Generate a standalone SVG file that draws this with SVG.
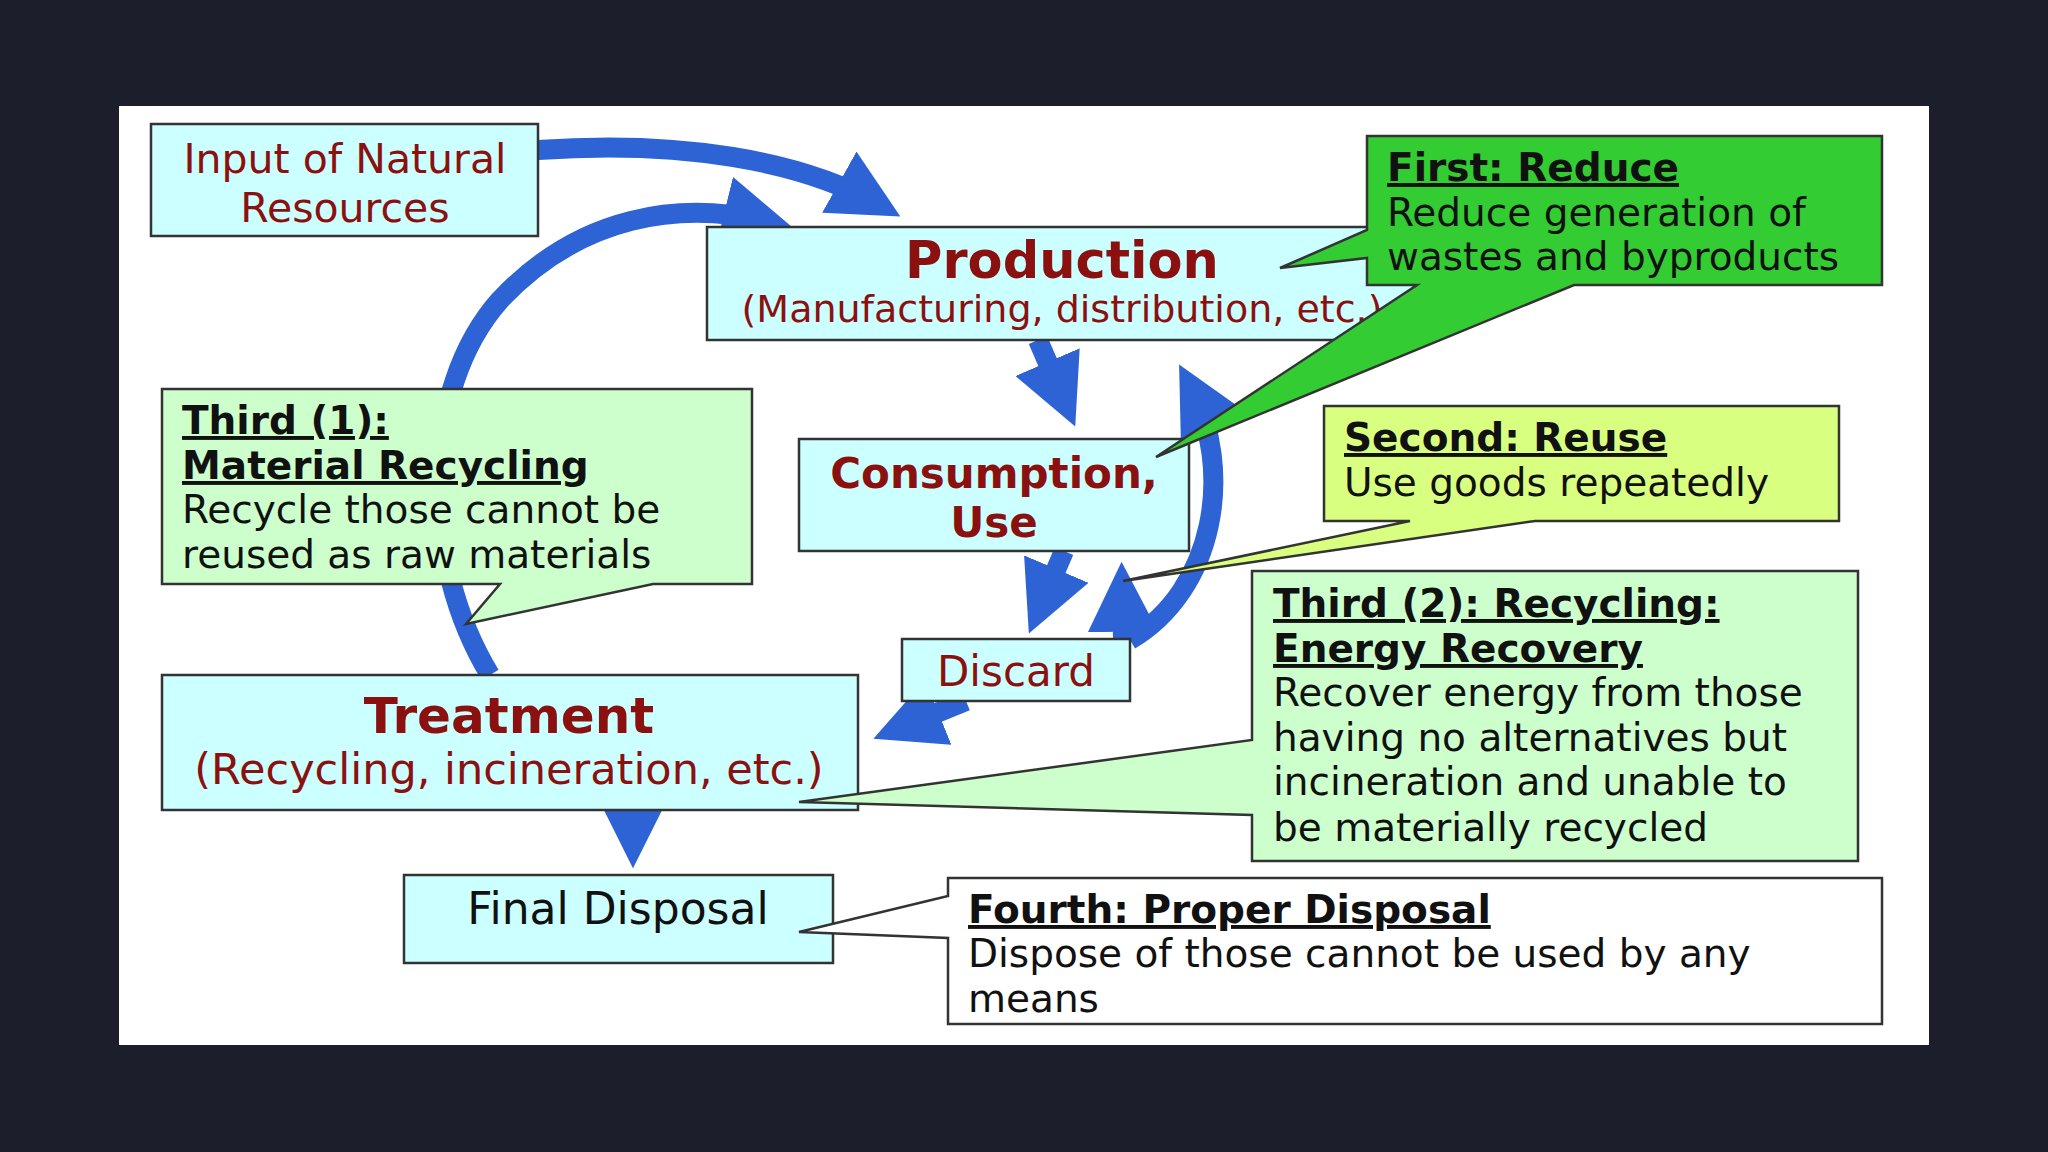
<svg xmlns="http://www.w3.org/2000/svg" width="2048" height="1152" viewBox="0 0 2048 1152">
<style>
.box{fill:#ccffff;stroke:#333;stroke-width:2.5}
.t{font-family:"DejaVu Sans","Liberation Sans",Arial,sans-serif}
.red{fill:#8b1111}
.b{font-weight:bold}
.u{text-decoration:underline;font-weight:bold}
.blk{fill:#111}
.arr{fill:none;stroke:#2d63d4;stroke-width:20}
.cl{stroke:#333;stroke-width:2.5}
.bd{font-size:39px}
</style>
<defs>
<marker id="ah" markerUnits="userSpaceOnUse" markerWidth="70" markerHeight="70" refX="40" refY="30" orient="auto" viewBox="0 0 60 60">
<path d="M0,0 L60,30 L0,60 Z" fill="#2d63d4"/>
</marker>
</defs>
<rect width="2048" height="1152" fill="#1c1f2b"/>
<rect x="119" y="106" width="1810" height="939" fill="#fff"/>

<g id="connectors">
<path class="arr" d="M538,150 C680,140 800,160 880,205" marker-end="url(#ah)"/>
<path class="arr" d="M490,675 C420,560 420,390 500,300 C580,215 680,200 770,222" marker-end="url(#ah)"/>
<path class="arr" d="M1038,340 L1066,405" marker-end="url(#ah)"/>
<path class="arr" d="M1064,551 L1038,612" marker-end="url(#ah)"/>
<path class="arr" d="M1123,639 L1122,585" marker-end="url(#ah)"/>
<path class="arr" d="M1130,640 C1215,590 1235,470 1190,385" marker-end="url(#ah)"/>
<path class="arr" d="M966,701 L895,730" marker-end="url(#ah)"/>
<path class="arr" d="M633,810 L633,845" marker-end="url(#ah)"/>
</g>

<g id="input"><rect class="box" x="151" y="124" width="387" height="112"/>
<text class="t red" x="345" y="173" font-size="41" text-anchor="middle">Input of Natural</text>
<text class="t red" x="345" y="222" font-size="41" text-anchor="middle">Resources</text></g>

<g id="production"><rect class="box" x="707" y="227" width="710" height="113"/>
<text class="t red b" x="1062" y="278" font-size="51" text-anchor="middle">Production</text>
<text class="t red" x="1062" y="322" font-size="38" text-anchor="middle">(Manufacturing, distribution, etc.)</text></g>

<g id="consumption"><rect class="box" x="799" y="439" width="390" height="112"/>
<text class="t red b" x="994" y="488" font-size="42" text-anchor="middle">Consumption,</text>
<text class="t red b" x="994" y="537" font-size="42" text-anchor="middle">Use</text></g>

<g id="discard"><rect class="box" x="902" y="639" width="228" height="62"/>
<text class="t red" x="1016" y="686" font-size="42" text-anchor="middle">Discard</text></g>

<g id="treatment"><rect class="box" x="162" y="675" width="696" height="135"/>
<text class="t red b" x="509" y="733" font-size="50" text-anchor="middle">Treatment</text>
<text class="t red" x="509" y="784" font-size="43" text-anchor="middle">(Recycling, incineration, etc.)</text></g>

<g id="final"><rect class="box" x="404" y="875" width="429" height="88"/>
<text class="t blk" x="618" y="924" font-size="44" text-anchor="middle">Final Disposal</text></g>

<g id="reduce">
<path class="cl" fill="#33cc33" d="M1367,136 H1882 V285 H1574 L1156,457 L1417,285 H1367 V258 L1280,268 L1367,230 Z"/>
<text class="t blk u bd" x="1387" y="181">First: Reduce</text>
<text class="t blk bd" x="1387" y="226">Reduce generation of</text>
<text class="t blk bd" x="1387" y="270">wastes and byproducts</text></g>

<g id="reuse">
<path class="cl" fill="#d9ff80" d="M1324,406 H1839 V521 H1535 L1123,581 L1410,521 H1324 Z"/>
<text class="t blk u bd" x="1344" y="451">Second: Reuse</text>
<text class="t blk bd" x="1344" y="496">Use goods repeatedly</text></g>

<g id="third1">
<path class="cl" fill="#ccffcc" d="M162,389 H752 V584 H653 L466,624 L500,584 H162 Z"/>
<text class="t blk u bd" x="182" y="434">Third (1):</text>
<text class="t blk u bd" x="182" y="479">Material Recycling</text>
<text class="t blk bd" x="182" y="523">Recycle those cannot be</text>
<text class="t blk bd" x="182" y="568">reused as raw materials</text></g>

<g id="third2">
<path class="cl" fill="#ccffcc" d="M1252,571 H1858 V861 H1252 V815 L799,802 L1252,740 Z"/>
<text class="t blk u bd" x="1273" y="617">Third (2): Recycling:</text>
<text class="t blk u bd" x="1273" y="662">Energy Recovery</text>
<text class="t blk bd" x="1273" y="706">Recover energy from those</text>
<text class="t blk bd" x="1273" y="751">having no alternatives but</text>
<text class="t blk bd" x="1273" y="795">incineration and unable to</text>
<text class="t blk bd" x="1273" y="841">be materially recycled</text></g>

<g id="fourth">
<path class="cl" fill="#fff" d="M948,878 H1882 V1024 H948 V938 L799,932 L948,896 Z"/>
<text class="t blk u bd" x="968" y="923">Fourth: Proper Disposal</text>
<text class="t blk bd" x="968" y="967">Dispose of those cannot be used by any</text>
<text class="t blk bd" x="968" y="1012">means</text></g>
</svg>
